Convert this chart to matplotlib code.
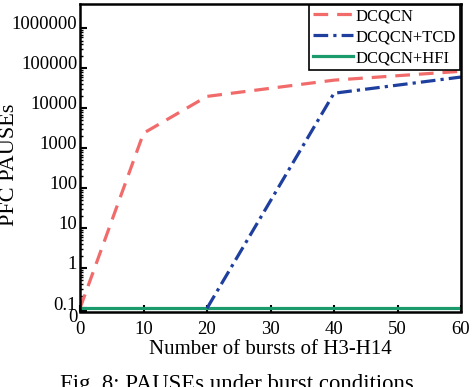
import numpy as np
import matplotlib
matplotlib.use("Agg")
import matplotlib.pyplot as plt
from matplotlib.ticker import FixedLocator, FixedFormatter
from matplotlib.transforms import ScaledTranslation

# Data
x_dcqcn = [0, 10, 20, 40, 60]
y_dcqcn = [0.1, 2400, 20000, 51000, 85000]
x_tcd = [20, 40, 60]
y_tcd = [0.1, 24000, 61000]
x_hfi = [0, 60]
y_hfi = [0.1, 0.1]
ytick_vals = [0, 0.1, 1, 10, 100, 1000, 10000, 100000, 1000000]
ytick_labels = ["0", "0.1", "1", "10", "100", "1000", "10000", "100000", "1000000"]
xticks = [0, 10, 20, 30, 40, 50, 60]

K = 0.08

def fwd(v):
    v = np.asarray(v, dtype=float)
    safe = np.where(v >= 0.1, v, 0.1)
    return np.where(v >= 0.1, np.log10(safe) + 1, -K * (1 - v / 0.1))

def inv(p):
    p = np.asarray(p, dtype=float)
    return np.where(p >= 0, 10 ** (np.clip(p, 0, None) - 1), 0.1 * (1 + p / K))

plt.rcParams['font.family'] = ['Liberation Serif', 'DejaVu Serif']

W, H = 474, 387
fig = plt.figure(figsize=(W/100, H/100), dpi=100)
L, R, T, B = 80, 461, 3.5, 311.5
ax = fig.add_axes([L/W, 1 - B/H, (R-L)/W, (B-T)/H])
ax.set_yscale('function', functions=(fwd, inv))

lw = 2.3
ax.plot(x_dcqcn, y_dcqcn, color='#f26b6b', lw=lw, dashes=(4.6, 2.8), label='DCQCN')
ax.plot(x_tcd, y_tcd, color='#1f3f9f', lw=lw, dashes=(4.6, 1.6, 1.0, 1.6), label='DCQCN+TCD')
ax.plot(x_hfi, y_hfi, color='#1b9a6c', lw=lw, label='DCQCN+HFI', zorder=1.9)

ax.set_xlim(0, 60)
ax.set_ylim(0, float(inv(7.625)))

ax.yaxis.set_major_locator(FixedLocator(ytick_vals))
ax.yaxis.set_major_formatter(FixedFormatter(ytick_labels))
minor = [m * 10.0 ** e for e in range(-1, 6) for m in range(2, 10)]
ax.yaxis.set_minor_locator(FixedLocator(minor))
ax.set_xticks(xticks)
ax.set_xticklabels([str(t) for t in xticks])

ax.tick_params(axis='both', which='major', direction='in', length=5, width=1.5, labelsize=13.5)
ax.tick_params(axis='y', which='major', pad=2)
ax.tick_params(axis='x', which='major', pad=7)
ax.tick_params(axis='y', which='minor', direction='in', length=2.5, width=1)
for s in ax.spines.values():
    s.set_linewidth(1.8)

# label offsets (points) as in the reference
offsets = {"0": -2.8, "0.1": 3.6}
for tick, lab in zip(ax.yaxis.get_major_ticks(), ytick_labels):
    dy = offsets.get(lab, 4.3)
    tick.label1.set_transform(tick.label1.get_transform() +
                              ScaledTranslation(0, dy/72, fig.dpi_scale_trans))

ax.set_xlabel('Number of bursts of H3-H14', fontsize=15, labelpad=0)
ax.xaxis.set_label_coords(0.5, -(350 - B)/(B - T), transform=ax.transAxes)
ax.xaxis.label.set_va('center')
ax.set_ylabel('PFC PAUSEs', fontsize=16)
ax.yaxis.set_label_coords(-(L - 10)/(R - L), (B - 165)/(B - T))
ax.yaxis.label.set_va('center')

leg = ax.legend(loc='upper right', fontsize=12, frameon=True, fancybox=False,
                edgecolor='black', handlelength=2.4, borderpad=0.2, labelspacing=0.3,
                handletextpad=0.2, borderaxespad=0.08)
leg.get_frame().set_linewidth(1.2)
leg.get_frame().set_alpha(1)

fig.text(0.5, 1 - 390/H, 'Fig. 8: PAUSEs under burst conditions', ha='center', va='baseline', fontsize=16.4)

fig.savefig('out.png', dpi=100)
